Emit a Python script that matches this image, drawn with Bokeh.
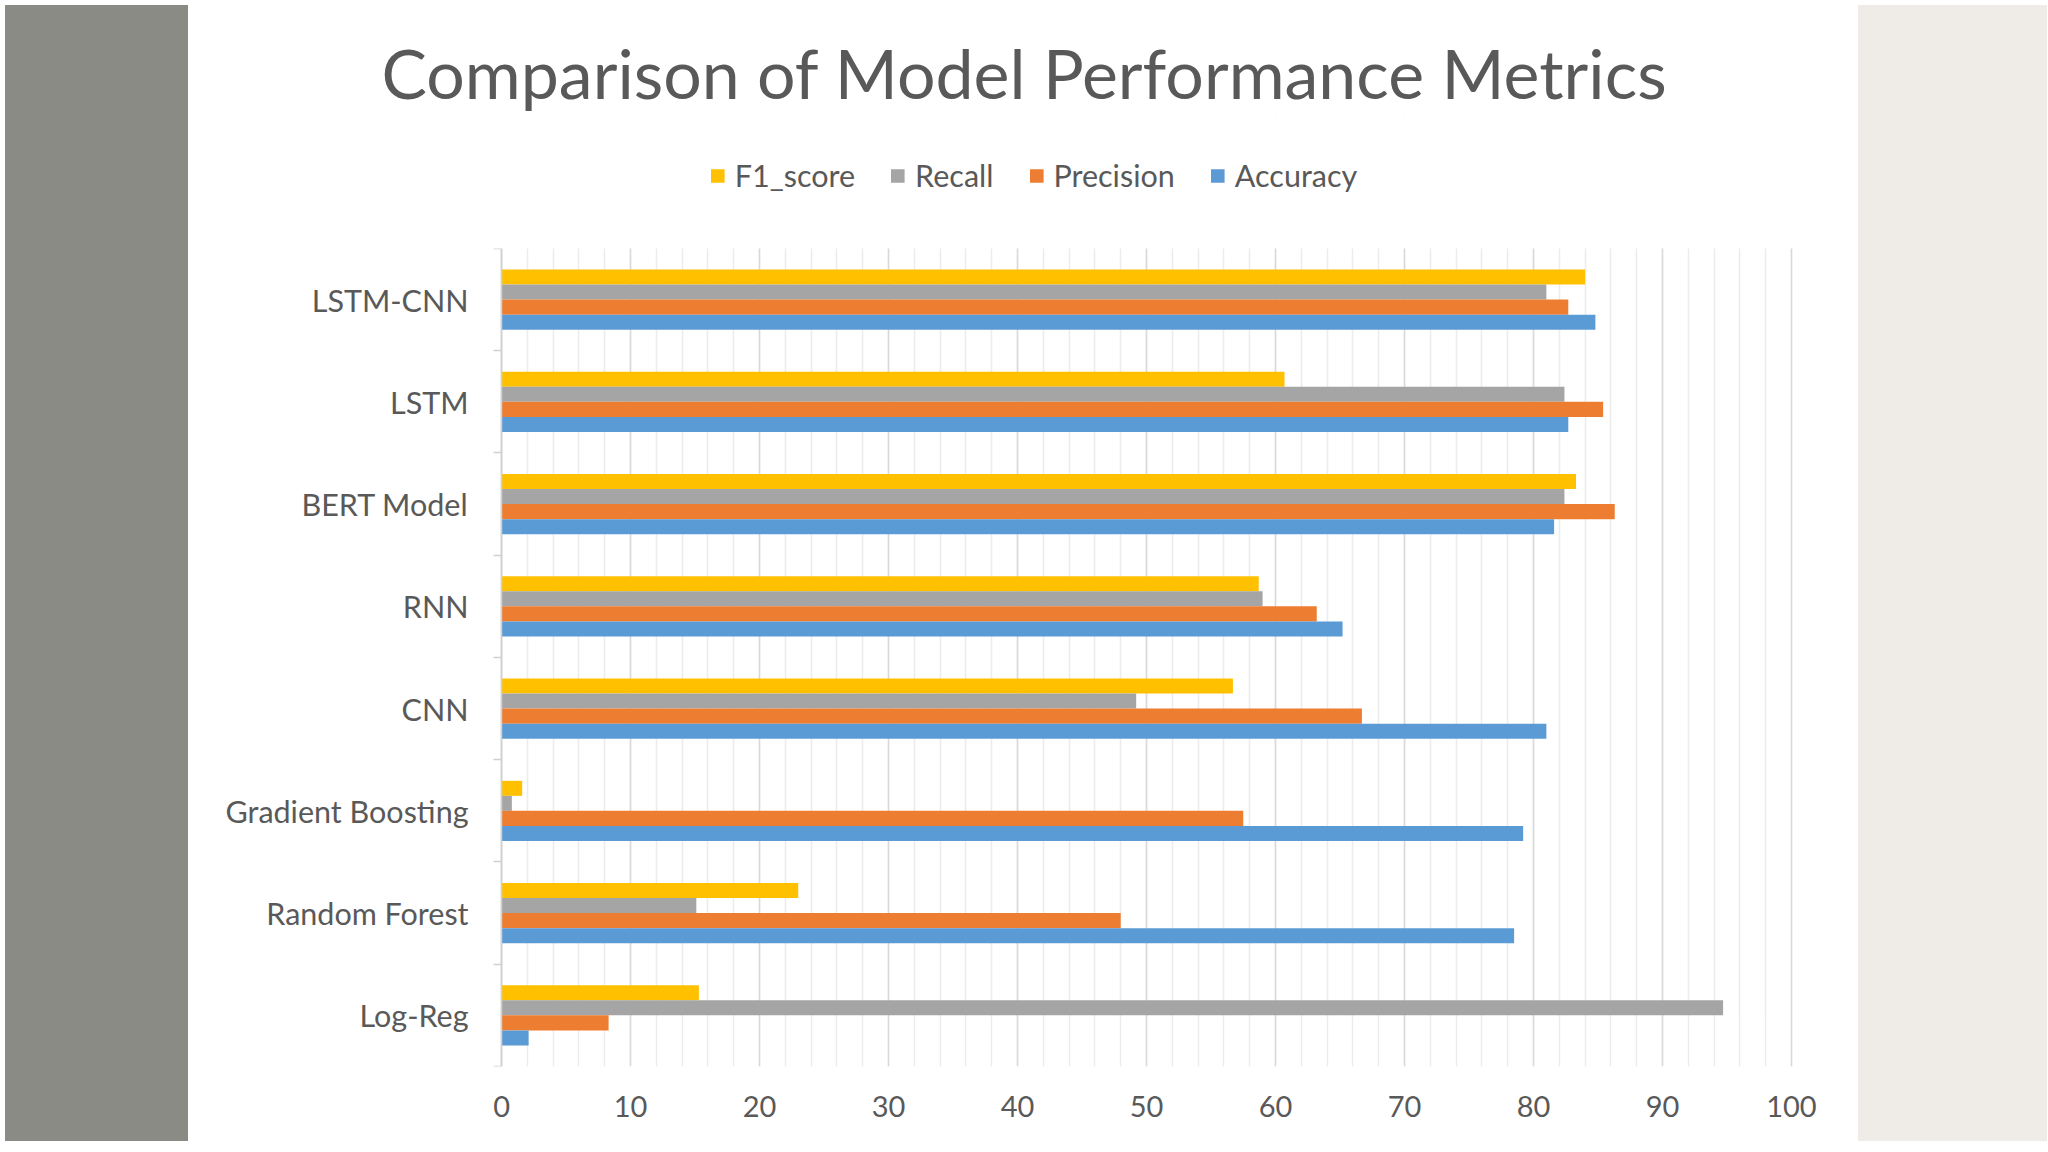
from bokeh.plotting import figure
from bokeh.models import (ColumnDataSource, Range1d, FixedTicker, SingleIntervalTicker,
                          Legend, LegendItem, Div, BoxAnnotation)
from bokeh.core.properties import value
from bokeh.transform import dodge
from bokeh.layouts import row
from bokeh.embed import file_html
from bokeh.resources import INLINE

# ---- data (bottom to top, as drawn) ----
models = ["Log-Reg", "Random Forest", "Gradient Boosting", "CNN", "RNN",
          "BERT Model", "LSTM", "LSTM-CNN"]
accuracy = [2.1, 78.5, 79.2, 81.0, 65.2, 81.6, 82.7, 84.8]
precision = [8.3, 48.0, 57.5, 66.7, 63.2, 86.3, 85.4, 82.7]
recall = [94.7, 15.1, 0.8, 49.2, 59.0, 82.4, 82.4, 81.0]
f1_score = [15.3, 23.0, 1.6, 56.7, 58.7, 83.3, 60.7, 84.0]
x_min, x_max = 0, 100

FONT = "Lato"
TXT = "#595959"

n = len(models)
y_lo, y_hi = -0.5, n - 0.5          # extent of the category axis
src = ColumnDataSource(dict(y=list(range(n)), model=models,
                            accuracy=accuracy, precision=precision,
                            recall=recall, f1=f1_score))

# frame spans the slide width (legend centres on it) and extends above the
# bars to hold the legend; the value axis itself runs from 0 to 100
p = figure(width=1660, height=1136, output_backend="svg", toolbar_location=None,
           x_range=Range1d(-22.02, 104.5), y_range=Range1d(y_lo, y_hi + 1.281),
           min_border_left=24, min_border_right=4, min_border_top=117,
           min_border_bottom=70, title="Comparison of Model Performance Metrics")
p.background_fill_color = "white"
p.border_fill_color = "white"
p.outline_line_color = None

p.title.align = "left"
p.title.offset = 164
p.title.standoff = 10
p.title.text_font = FONT
p.title.text_font_size = "68px"
p.title.text_font_style = "normal"
p.title.text_color = TXT

bh = 0.147
series = [("f1", "#FFC000", 1.5 * bh, "F1_score"),
          ("recall", "#A5A5A5", 0.5 * bh, "Recall"),
          ("precision", "#ED7D31", -0.5 * bh, "Precision"),
          ("accuracy", "#5B9BD5", -1.5 * bh, "Accuracy")]
rends = {}
for col, color, off, lab in series:
    rends[lab] = p.hbar(y=dodge("y", off, range=p.y_range), right=col, left=x_min,
                        height=bh, source=src, fill_color=color, line_color=None)

p.text(x=x_min, y="y", text="model", source=src, x_offset=-33,
       text_align="right", text_baseline="middle", text_font=value(FONT),
       text_font_size=value("30.5px"), text_color=TXT)

# x axis / grid
p.xaxis.ticker = SingleIntervalTicker(interval=10, num_minor_ticks=5)
p.xaxis.bounds = (x_min, x_max)
p.xaxis.axis_line_color = None
p.xaxis.major_tick_line_color = None
p.xaxis.minor_tick_line_color = None
p.xaxis.major_tick_out = 0
p.xaxis.major_tick_in = 0
p.xaxis.minor_tick_out = 0
p.xaxis.major_label_standoff = 29
p.xaxis.major_label_text_font = FONT
p.xaxis.major_label_text_font_size = "29px"
p.xaxis.major_label_text_color = TXT
p.xgrid.bounds = (x_min, x_max)
p.xgrid.grid_line_color = "#d9d9d9"
p.xgrid.grid_line_width = 1.5
p.xgrid.minor_grid_line_color = "#ececec"
p.xgrid.minor_grid_line_width = 1.5
p.ygrid.grid_line_color = None

# y axis: line at x = 0 with ticks between the categories
yt = list(range(n))
p.yaxis.fixed_location = x_min
p.yaxis.bounds = (y_lo, y_hi)
p.yaxis.ticker = FixedTicker(ticks=yt, minor_ticks=[t - 0.5 for t in yt] + [yt[-1] + 0.5])
p.yaxis.major_label_overrides = {i: "" for i in yt}
p.yaxis.major_label_standoff = 0
p.yaxis.axis_line_color = "#d0d0d0"
p.yaxis.axis_line_width = 1.5
p.yaxis.major_tick_line_color = None
p.yaxis.major_tick_out = 0
p.yaxis.major_tick_in = 0
p.yaxis.minor_tick_line_color = "#d0d0d0"
p.yaxis.minor_tick_line_width = 1.5
p.yaxis.minor_tick_out = 8
p.yaxis.minor_tick_in = 0

# white band above the plot area (keeps gridlines inside the plot area)
p.add_layout(BoxAnnotation(bottom=y_hi, fill_color="white", fill_alpha=1.0,
                           line_alpha=0))

legend = Legend(items=[LegendItem(label=lab, renderers=[rends[lab]])
                       for _, _, _, lab in series],
                orientation="horizontal", location="top_center",
                glyph_width=17, glyph_height=17,
                label_standoff=9, spacing=34,
                padding=0, margin=40, border_line_color=None,
                background_fill_alpha=0, label_text_font=FONT,
                label_text_font_size="30.5px", label_text_color=TXT)
p.add_layout(legend, "center")

left_panel = Div(text="", width=183, height=1136,
                 styles={"background-color": "#8b8b85"})
right_panel = Div(text="", width=189, height=1136,
                  styles={"background-color": "#efebe6"})

layout = row(left_panel, p, right_panel)
open("out.html", "w").write(file_html(layout, INLINE))
